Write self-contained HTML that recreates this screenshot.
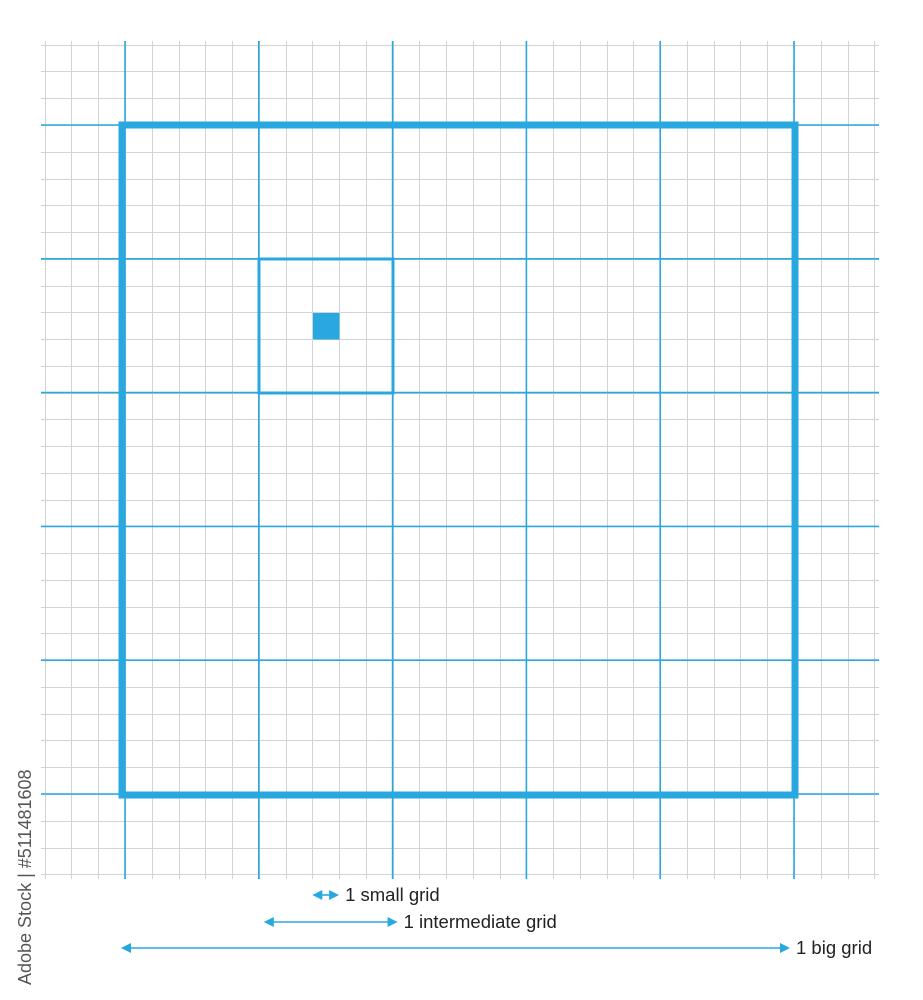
<!DOCTYPE html>
<html><head><meta charset="utf-8">
<style>
html,body{margin:0;padding:0;background:#fff;width:923px;height:1000px;overflow:hidden}
svg{display:block}
text{font-family:"Liberation Sans",sans-serif}
</style></head>
<body>
<svg id="c" width="923" height="1000" viewBox="0 0 923 1000">
<g id="minor"></g>
<g id="major"></g>
<rect x="122" y="125" width="673" height="670" fill="none" stroke="#29a8e0" stroke-width="7"/>
<rect x="259" y="259" width="134" height="134" fill="none" stroke="#29a8e0" stroke-width="3"/>
<rect x="313" y="313" width="26.5" height="26.5" fill="#29a8e0"/>
<g id="legend"></g>
<text x="0" y="0" transform="translate(31,985) rotate(-90)" font-size="18" fill="#555">Adobe Stock | #511481608</text>
</svg>
<script>
const minorIndices = [-3,-2,-1,0,1,2,3,4,5,6,7,8,9,10,11,12,13,14,15,16,17,18,19,20,21,22,23,24,25,26,27,28];
const majorIndices = [0,1,2,3,4,5];
const legendLabels = ["1 small grid","1 intermediate grid","1 big grid"];
const legendSpans = [1,5,25];
const legendStarts = [7,5,0];
const origin = 125, step = 26.76, lo = 41, hi = 879;
const NS = "http://www.w3.org/2000/svg";
function px(i){ return origin + i*step; }
function line(g,x1,y1,x2,y2,col,w){
  const l=document.createElementNS(NS,'line');
  l.setAttribute('x1',x1);l.setAttribute('y1',y1);l.setAttribute('x2',x2);l.setAttribute('y2',y2);
  l.setAttribute('stroke',col);l.setAttribute('stroke-width',w);
  g.appendChild(l);return l;
}
const gm=document.getElementById('minor');
minorIndices.forEach(i=>{
  const p=Math.round(px(i))+0.5;
  const a=line(gm,p,lo,p,hi,'#cfd3da',1);
  
  
  const b=line(gm,lo,p,hi,p,'#cfd3da',1);
  
  
});
const gM=document.getElementById('major');
majorIndices.forEach(k=>{
  const p=px(k*5);
  const a=line(gM,p,lo,p,hi,'#29a8e0',1.6);
  
  
  const b=line(gM,lo,p,hi,p,'#29a8e0',1.6);
  
  
});
const gl=document.getElementById('legend');
const ys=[895,922,948];
const offs=[0,5,-4];
legendLabels.forEach((lab,i)=>{
  const x1=px(legendStarts[i])+offs[i], x2=x1+legendSpans[i]*step, y=ys[i];
  const a1=x1, a2=x2;
  const l=line(gl,a1+6,y,a2-6,y,'#29a8e0',1.6);
  
  
  [[a1,1],[a2,-1]].forEach(([x,d])=>{
    const t=document.createElementNS(NS,'polygon');
    t.setAttribute('points',`${x},${y} ${x+10*d},${y-5} ${x+10*d},${y+5}`);
    t.setAttribute('fill','#29a8e0');
    
    
    gl.appendChild(t);
  });
  const tx=document.createElementNS(NS,'text');
  tx.setAttribute('x',x2+6);tx.setAttribute('y',y+6);
  tx.setAttribute('font-size','18.5');tx.setAttribute('fill','#222');
  tx.textContent=lab;
  
  
  gl.appendChild(tx);
});
</script>
</body></html>
